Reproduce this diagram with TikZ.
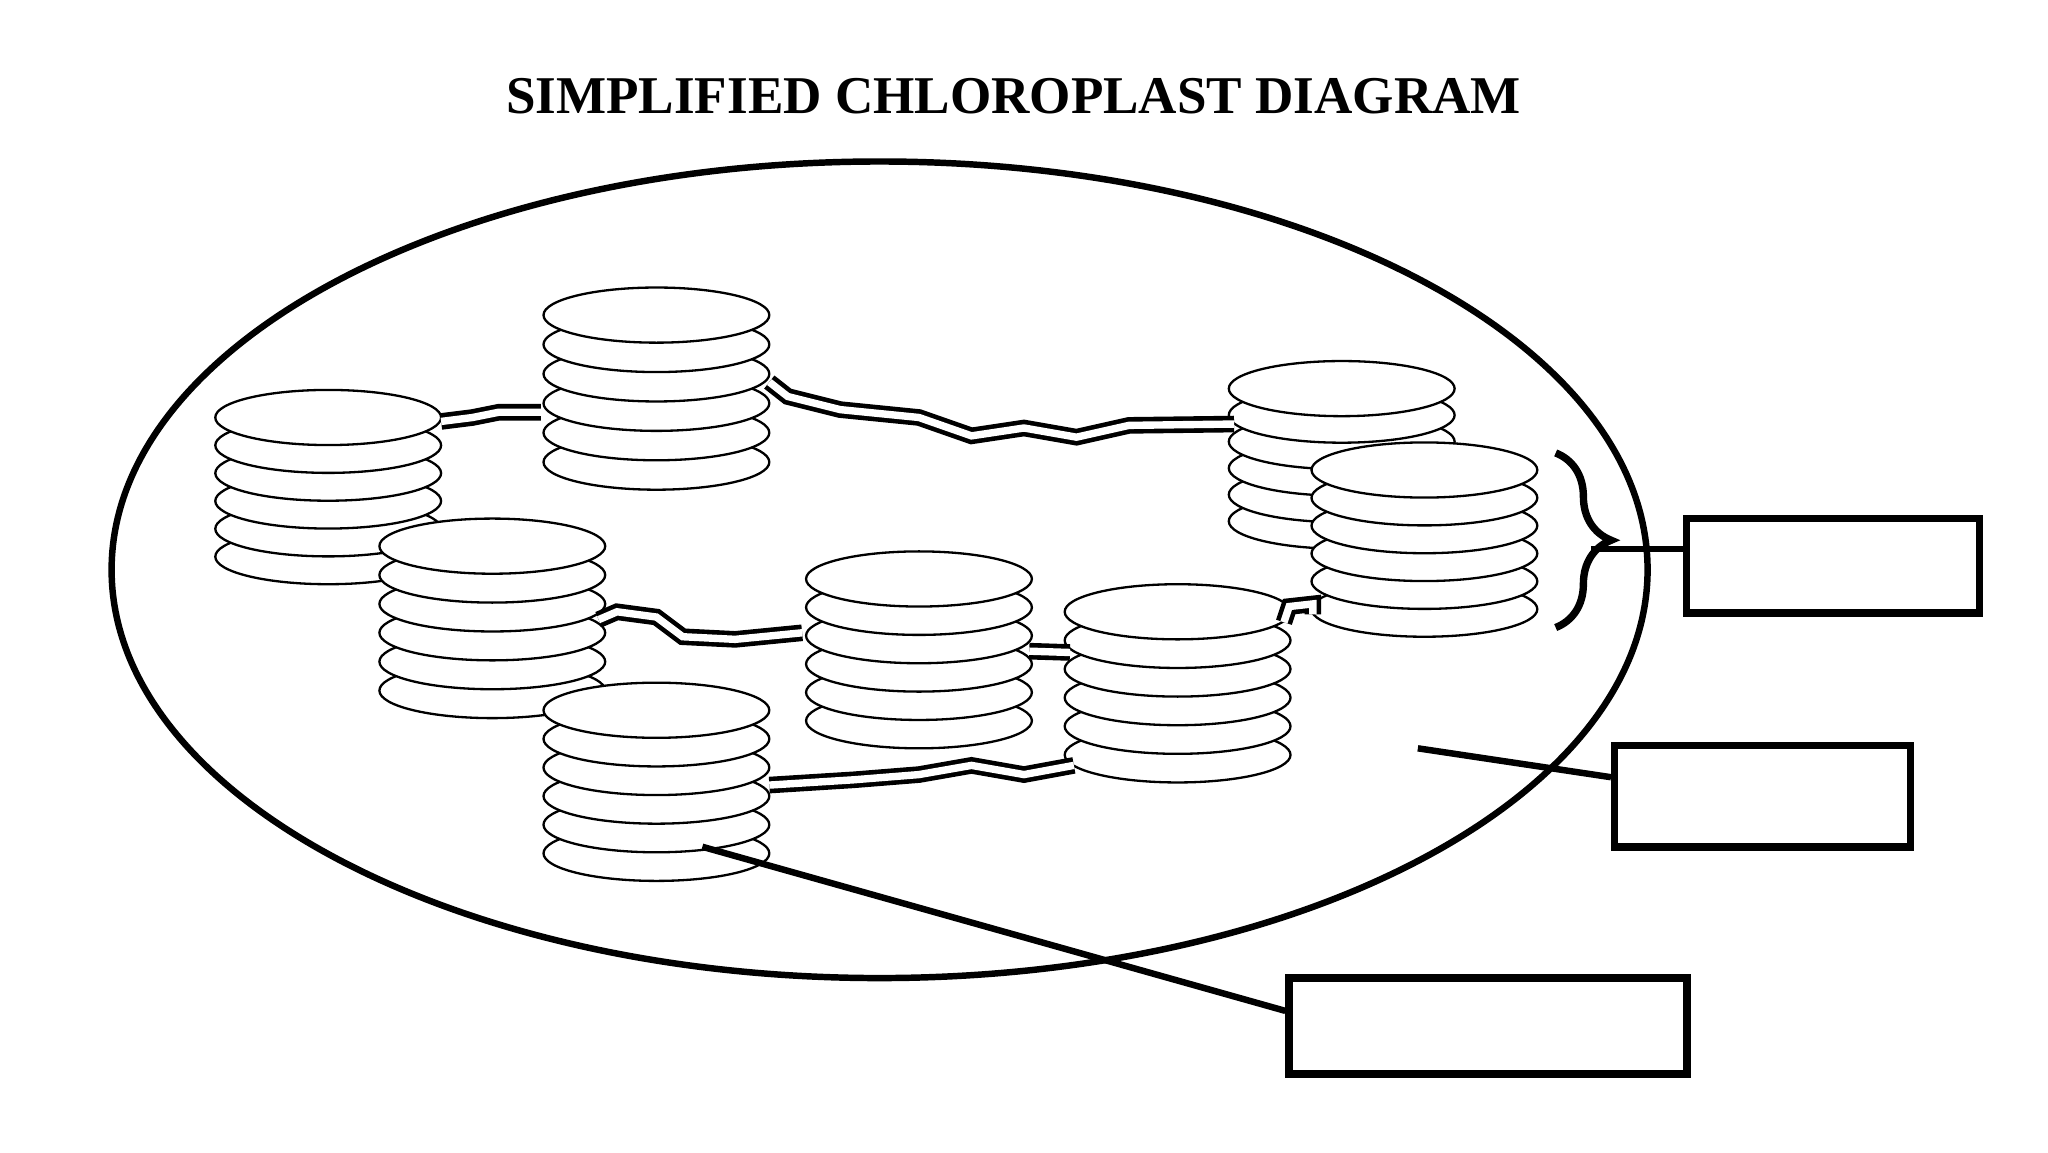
\documentclass[tikz,border=0pt]{standalone}
\usepackage{fontspec}
\setmainfont{Liberation Serif}
\usetikzlibrary{decorations.pathreplacing}
\begin{document}
\begin{tikzpicture}[x=0.01cm,y=-0.01cm,
  disc/.style={draw=black,fill=white,line width=0.5pt},
  lam/.style={draw=black,double=white,double distance=1.6pt,line width=1pt},
  lbox/.style={draw=black,line width=1.6pt,minimum width=2.2cm,minimum height=0.72cm,inner sep=0pt},
  lead/.style={draw=black,line width=1.4pt}]
\useasboundingbox (0,0) rectangle (1560,878);
\node[font=\bfseries\fontsize{11.5}{12}\selectfont] (title) at (772,73) {SIMPLIFIED CHLOROPLAST DIAGRAM};
\draw[line width=1.4pt] (670,434) ellipse [x radius=585, y radius=311];
\newcommand{\granum}[3]{%
  \foreach \k in {5,4,...,0}{\path[disc] (#1,{#2+\k*(#3-#2)/5}) ellipse [x radius=86, y radius=21];}}
\granum{250}{318}{424}
\granum{500}{240}{352}
\granum{1022}{296}{397}
\granum{1085}{358}{464}
\granum{375}{416}{526}
\granum{700}{441}{549}
\granum{897}{466}{575}
\granum{500}{541}{650}
\draw[lam] (336,321)--(360,318)--(380,314)--(412,314);
\draw[lam] (586,291)--(600,302)--(640,312)--(700,318)--(740,332)--(780,326)--(820,333)--(860,324)--(940,323);
\draw[lam] (456,472)--(470,466)--(500,470)--(520,485)--(560,487)--(611,482);
\draw[lam] (784,496)--(815,497);
\draw[lam] (978,474)--(982,462)--(1000,460)--(1000,468);
\draw[lam] (586,598)--(650,594)--(700,590)--(740,583)--(780,590)--(818,583);
\draw[line width=1.6pt,decorate,decoration={brace,amplitude=12pt}] (1185,345) -- (1185,478);
\coordinate (bt) at (1212,418);
\node[lbox,minimum width=2.23cm,anchor=west] (b1) at (1282,431) {};
\node[lbox,minimum width=2.25cm,minimum height=0.77cm] (b2) at (1342.5,606.5) {};
\node[lbox,minimum width=3.03cm,minimum height=0.73cm] (b3) at (1133.5,781.5) {};
\coordinate (p2) at (1080,570);
\coordinate (p3) at (535,645);
\draw[lead] (bt) -- (bt -| b1.west);
\draw[lead] (p2) -- (b2.west |- 0,592);
\draw[lead] (p3) -- (b3.west |- 0,770);
\end{tikzpicture}
\end{document}
